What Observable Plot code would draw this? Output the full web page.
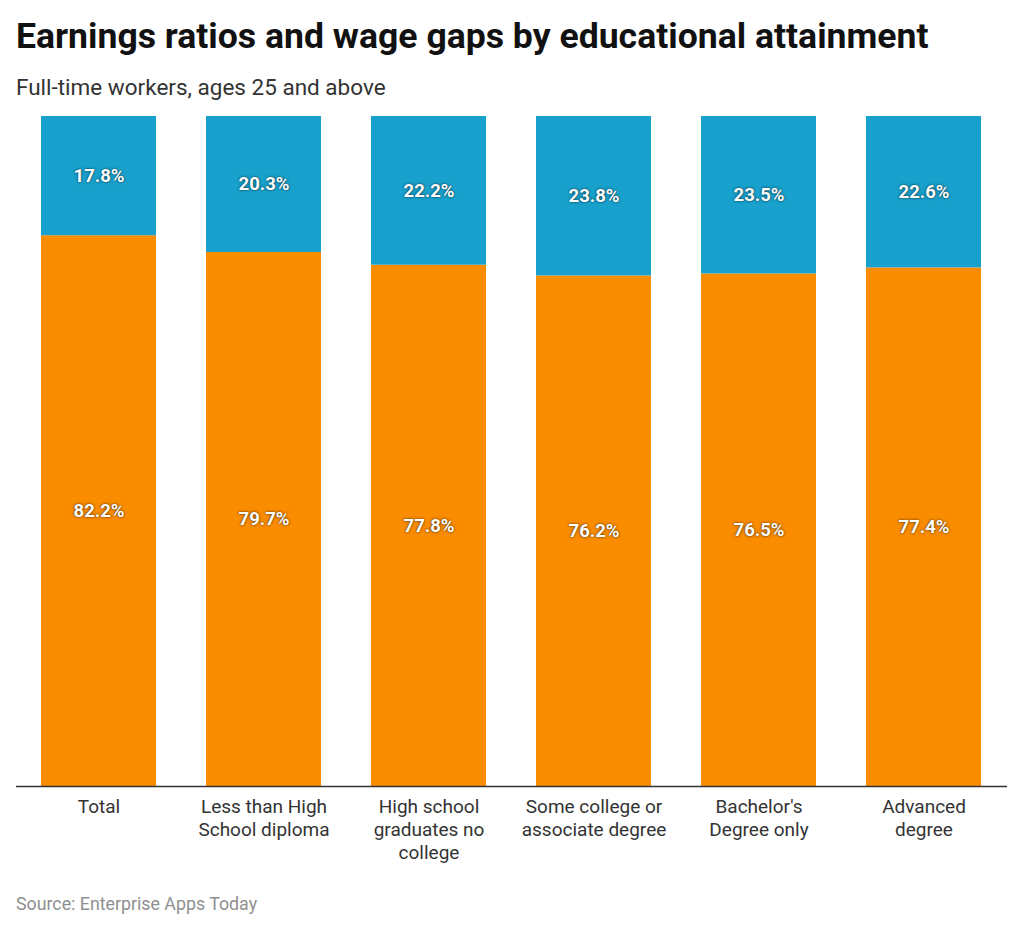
<!DOCTYPE html>
<html>
<head>
<meta charset="utf-8">
<script src="https://cdn.jsdelivr.net/npm/d3@7"></script>
<script src="https://cdn.jsdelivr.net/npm/@observablehq/plot@0.6"></script>
<style>
  html, body { margin: 0; padding: 0; background: #fff; }
  body { font-family: Roboto, "Noto Sans", sans-serif; width: 1024px; }
  #title { margin: 15px 0 0 16px; font-size: 35.6px; line-height: 42px; font-weight: 700; color: #111; }
  #subtitle { margin: 16px 0 0 16px; font-size: 22.5px; line-height: 28px; color: #333; }
  #chart svg { display: block; }
  #source { margin: 28px 0 0 16px; font-size: 17.8px; line-height: 20px; color: #8f8f8f; }
  .seg-label text { text-shadow: 0 0 3px rgba(0,0,0,0.6), 0 0 1px rgba(0,0,0,0.45); }
</style>
</head>
<body>
<div id="title">Earnings ratios and wage gaps by educational attainment</div>
<div id="subtitle">Full-time workers, ages 25 and above</div>
<div id="chart"></div>
<div id="source">Source: Enterprise Apps Today</div>
<script>
// Education levels, left to right
const categories = [
  "Total",
  "Less than High School diploma",
  "High school graduates no college",
  "Some college or associate degree",
  "Bachelor's Degree only",
  "Advanced degree"
];
// Multi-line axis labels for each category
const tickLabels = [
  "Total",
  "Less than High\nSchool diploma",
  "High school\ngraduates no\ncollege",
  "Some college or\nassociate degree",
  "Bachelor's\nDegree only",
  "Advanced\ndegree"
];
// Women's earnings as a share of men's (%), and the remaining gap (%)
const earningsRatio = [82.2, 79.7, 77.8, 76.2, 76.5, 77.4];
const wageGap = [17.8, 20.3, 22.2, 23.8, 23.5, 22.6];

const seriesNames = ["Earnings ratio", "Wage gap"];
const seriesColors = ["#fa8c00", "#18a1cd"];

// Long-format table: earnings ratio stacked first (bottom), gap on top
const rows = [];
categories.forEach((c, i) => {
  rows.push({category: c, series: seriesNames[0], value: earningsRatio[i]});
  rows.push({category: c, series: seriesNames[1], value: wageGap[i]});
});

const labelFor = new Map(categories.map((c, i) => [c, tickLabels[i]]));

const chart = Plot.plot({
  width: 1024,
  height: 765,
  marginTop: 15,
  marginBottom: 80,
  marginLeft: 16,
  marginRight: 17,
  style: {fontFamily: "Roboto, 'Noto Sans', sans-serif", background: "#fff"},
  x: {domain: categories, paddingInner: 0.3, paddingOuter: 0.15, label: null},
  y: {domain: [0, 100], axis: null},
  color: {domain: seriesNames, range: seriesColors},
  marks: [
    Plot.barY(rows, Plot.stackY({x: "category", y: "value", fill: "series", z: "series", order: seriesNames})),
    Plot.text(rows, Plot.stackY({
      x: "category", y: "value", z: "series", order: seriesNames,
      text: d => d.value.toFixed(1) + "%",
      fill: "#fff", fontWeight: 700, fontSize: 18.5,
      className: "seg-label"
    })),
    Plot.ruleY([0], {stroke: "#333", strokeWidth: 1.5}),
    Plot.axisX({
      tickSize: 0, tickPadding: 10, fontSize: 19, lineHeight: 1.21,
      tickFormat: d => labelFor.get(d), label: null, fill: "#333"
    })
  ]
});
document.getElementById("chart").appendChild(chart);
</script>
</body>
</html>
